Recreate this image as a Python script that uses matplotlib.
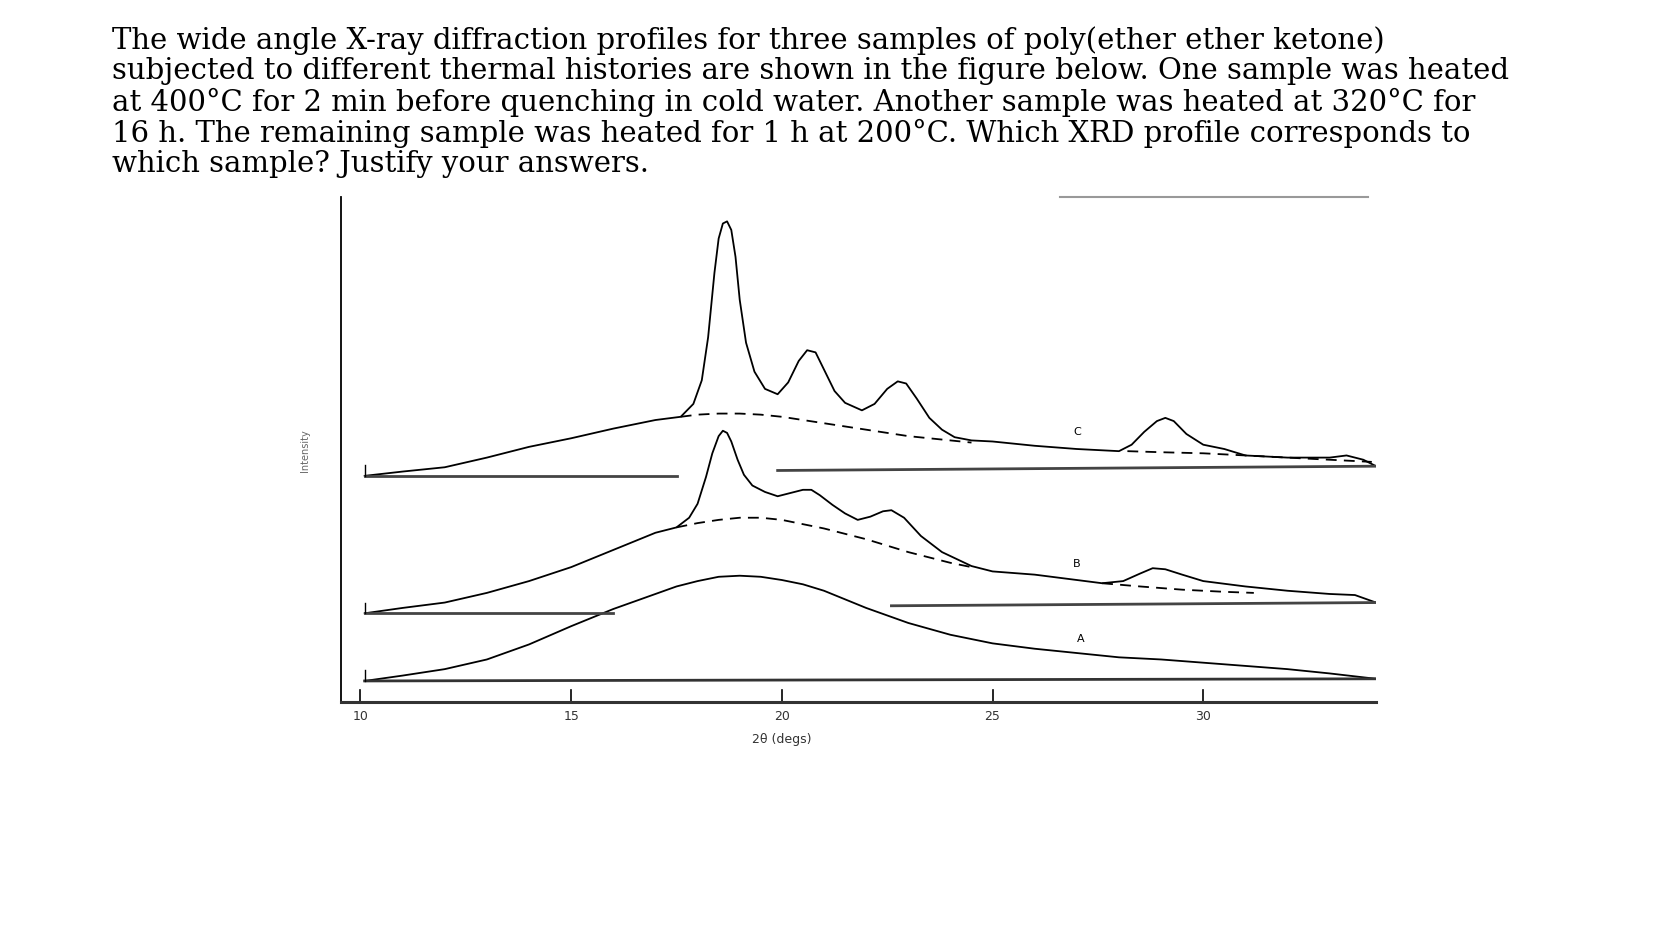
import numpy as np
import matplotlib.pyplot as plt

plt.rcParams['font.family'] = ['DejaVu Serif']

# Question text
lines = [
    "The wide angle X-ray diffraction profiles for three samples of poly(ether ether ketone)",
    "subjected to different thermal histories are shown in the figure below. One sample was heated",
    "at 400°C for 2 min before quenching in cold water. Another sample was heated at 320°C for",
    "16 h. The remaining sample was heated for 1 h at 200°C. Which XRD profile corresponds to",
    "which sample? Justify your answers.",
]

# Profile A (amorphous, quenched)
a_x = [10.1, 11, 12, 13, 14, 15, 16, 17, 17.5, 18, 18.5, 19, 19.5, 20, 20.5, 21, 22, 23, 24, 25, 26,
       27, 28, 29, 30, 31, 32, 33, 34.1]
a_y = [20, 25, 31, 40, 54, 71, 87, 101, 108, 113, 117, 118, 117, 114, 110, 104, 88, 74, 63, 55, 50,
       46, 42, 40, 37, 34, 31, 27, 22]
a_base_x = [10.1, 34.1]
a_base_y = [20, 22]

# Profile B
b_x = [10.1, 11, 12, 13, 14, 15, 16, 17, 17.5, 17.8, 18.0, 18.2, 18.35, 18.5, 18.6, 18.7, 18.8,
       18.95, 19.1, 19.3, 19.6, 19.9, 20.2, 20.5, 20.7, 20.9, 21.2, 21.5, 21.8, 22.1, 22.4, 22.6,
       22.9, 23.3, 23.8, 24.5, 25, 26, 27, 27.6, 28.1, 28.5, 28.8, 29.1, 29.5, 30, 31, 32, 33,
       33.6, 34.1]
b_y = [83, 88, 93, 102, 113, 126, 142, 158, 163, 172, 185, 210, 232, 248, 253, 251, 243,
       226, 212, 202, 196, 192, 195, 198, 198, 193, 184, 176, 170, 173, 178, 179,
       172, 155, 140, 127, 122, 119, 114, 111, 113, 120, 125, 124, 119, 113, 108, 104, 101,
       100, 93]
b_amor_x = [17.5, 18, 18.5, 19, 19.5, 20, 21, 22, 23, 24, 24.5]
b_amor_y = [163, 167, 170, 172, 172, 170, 162, 152, 140, 130, 126]
b_amor2_x = [27.6, 28.5, 29.5, 30.5, 31.2]
b_amor2_y = [111, 108, 105, 103, 102]
b_base_x = [[10.1, 16.0], [22.6, 34.1]]
b_base_y = [[83, 83], [90, 93]]

# Profile C (most crystalline)
c_x = [10.1, 11, 12, 13, 14, 15, 16, 17, 17.6, 17.9, 18.1, 18.25, 18.4, 18.5, 18.6, 18.7, 18.8,
       18.9, 19.0, 19.15, 19.35, 19.6, 19.9, 20.15, 20.4, 20.6, 20.8, 21.0, 21.25, 21.5, 21.9,
       22.2, 22.5, 22.75, 22.95, 23.2, 23.5, 23.8, 24.1, 24.5, 25, 26, 27, 28, 28.3, 28.6, 28.9,
       29.1, 29.3, 29.6, 30, 30.5, 31, 32, 33, 33.4, 33.8, 34.1]
c_y = [211, 215, 219, 228, 238, 246, 255, 263, 266, 278, 300, 340, 400, 432, 446, 448, 440,
       415, 375, 335, 308, 292, 287, 298, 318, 328, 326, 310, 290, 279, 272,
       278, 292, 299, 297, 283, 265, 254, 247, 244, 243, 239, 236, 234, 240, 252, 262,
       265, 262, 250, 240, 236, 230, 228, 228, 230, 226, 220]
c_amor_x = [17.6, 18, 18.5, 19, 19.5, 20, 21, 22, 23, 24, 24.5]
c_amor_y = [266, 268, 269, 269, 268, 266, 260, 254, 248, 244, 242]
c_amor2_x = [28.2, 29, 30, 31, 32, 33, 34]
c_amor2_y = [234, 233, 232, 230, 228, 226, 224]
c_base_x = [[10.1, 17.5], [19.9, 34.1]]
c_base_y = [[211, 211], [216, 220]]

ticks = [10, 15, 20, 25, 30]
tick_labels = ["10", "15", "20", "25", "30"]
labels = {"A": (27.1, 55), "B": (27.0, 125), "C": (27.0, 248)}

fig = plt.figure(figsize=(16.74, 9.28), dpi=100)
for i, t in enumerate(lines):
    fig.text(0.067, 0.972 - i * 0.0335, t, fontsize=21, va='top', ha='left')

ax = fig.add_axes([0.204, 0.242, 0.618, 0.545])
ax.set_xlim(9.55, 34.1)
ax.set_ylim(0, 471)
for s in ['top', 'right']:
    ax.spines[s].set_visible(False)
ax.spines['left'].set_linewidth(1.3)
ax.spines['bottom'].set_linewidth(2.2)
ax.spines['bottom'].set_color('#333333')
ax.set_xticks([])
ax.set_yticks([])

lw = 1.3
ax.plot(a_x, a_y, color='black', lw=lw)
ax.plot(a_base_x, a_base_y, color='#333333', lw=2)
ax.plot(b_x, b_y, color='black', lw=lw)
ax.plot(b_amor_x, b_amor_y, color='black', lw=lw, ls=(0, (6, 4)))
ax.plot(b_amor2_x, b_amor2_y, color='black', lw=lw, ls=(0, (6, 4)))
for xs, ys in zip(b_base_x, b_base_y):
    ax.plot(xs, ys, color='#444444', lw=2)
ax.plot(c_x, c_y, color='black', lw=lw)
ax.plot(c_amor_x, c_amor_y, color='black', lw=lw, ls=(0, (6, 4)))
ax.plot(c_amor2_x, c_amor2_y, color='black', lw=lw, ls=(0, (6, 4)))
for xs, ys in zip(c_base_x, c_base_y):
    ax.plot(xs, ys, color='#444444', lw=2)

# small "L" starts of each baseline
for y0 in [a_base_y[0], b_base_y[0][0], c_base_y[0][0]]:
    ax.plot([10.1, 10.1], [y0, y0 + 10], color='black', lw=1)

for t, lab in zip(ticks, tick_labels):
    ax.plot([t, t], [0, 12], color='black', lw=1.2)
    ax.text(t, -6, lab, ha='center', va='top', fontsize=9, family='DejaVu Sans', color='#333333')
ax.text(20, -28, "2θ (degs)", ha='center', va='top', fontsize=9, family='DejaVu Sans', color='#333333')
ax.text(-0.035, 0.5, "Intensity", rotation=90, transform=ax.transAxes, ha='center', va='center',
        fontsize=7, family='DejaVu Sans', color='#666666')
for k, (x, y) in labels.items():
    ax.text(x, y, k, ha='center', va='bottom', fontsize=8, family='DejaVu Sans')

# grey line at top right
ax.plot([26.6, 33.9], [471, 471], color='#999999', lw=1.5, clip_on=False)

fig.savefig('out.png', dpi=100)
